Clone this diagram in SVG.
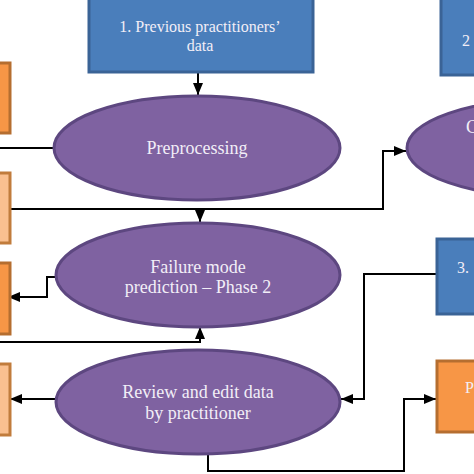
<svg xmlns="http://www.w3.org/2000/svg" width="474" height="474" viewBox="0 0 474 474">
<defs>
<style>
.blue{fill:#4A7EBB;stroke:#3A6396;stroke-width:3}
.orange{fill:#F79646;stroke:#B56E30;stroke-width:3}
.peach{fill:#FAC090;stroke:#C17C3C;stroke-width:3}
.ell{fill:#7F62A1;stroke:#5D4780;stroke-width:3}
.t{font-family:"Liberation Serif","Times New Roman",serif;font-size:16px;fill:#F2EEF7;text-anchor:middle}
.te{font-family:"Liberation Serif","Times New Roman",serif;font-size:18px;fill:#F2EEF7;text-anchor:middle}
.ts{font-family:"Liberation Serif","Times New Roman",serif;font-size:16px;fill:#F2EEF7}
.c{fill:none;stroke:#000;stroke-width:2}
</style>
<marker id="ah" markerWidth="12" markerHeight="10" refX="12" refY="5" orient="auto" markerUnits="userSpaceOnUse" viewBox="0 0 12 10">
<path d="M0,0 L12,5 L0,10 z" fill="#000"/>
</marker>
</defs>
<rect width="474" height="474" fill="#fff"/>
<g id="connectors">
<path class="c" d="M198,72 V95" marker-end="url(#ah)"/>
<path class="c" d="M0,148 H54"/>
<path class="c" d="M10,209 H383 V151 H406" marker-end="url(#ah)"/>
<path class="c" d="M200,209 V222" marker-end="url(#ah)"/>
<path class="c" d="M56,277 H47 V297 H8" marker-end="url(#ah)"/>
<path class="c" d="M0,342 H200 V327" marker-end="url(#ah)"/>
<path class="c" d="M56,399 H10" marker-end="url(#ah)"/>
<path class="c" d="M436,274 H364 V399 H341" marker-end="url(#ah)"/>
<path class="c" d="M208,455 V471 H404 V399 H436" marker-end="url(#ah)"/>
</g>
<g id="box1">
<rect class="blue" x="89" y="-4" width="224" height="76"/>
<text class="t" x="200" y="32">1. Previous practitioners’</text>
<text class="t" x="200" y="51">data</text>
</g>
<g id="box2">
<rect class="blue" x="441" y="-4" width="60" height="79"/>
<text class="ts" x="462" y="46">2</text>
</g>
<g id="boxA"><rect class="orange" x="-20" y="63" width="30" height="70"/></g>
<g id="boxB"><rect class="peach" x="-20" y="173" width="30" height="70"/></g>
<g id="boxC"><rect class="orange" x="-20" y="263" width="30" height="71"/></g>
<g id="boxD"><rect class="peach" x="-20" y="364" width="30" height="71"/></g>
<g id="preprocessing">
<ellipse class="ell" cx="197" cy="148" rx="143" ry="52"/>
<text class="te" x="197" y="154">Preprocessing</text>
</g>
<g id="ellipse2">
<ellipse class="ell" cx="549" cy="148" rx="142" ry="49"/>
<text class="ts" x="466" y="133" style="font-size:18px">C</text>
</g>
<g id="failure">
<ellipse class="ell" cx="198" cy="275" rx="142" ry="52"/>
<text class="te" x="198" y="273">Failure mode</text>
<text class="te" x="198" y="293">prediction – Phase 2</text>
</g>
<g id="review">
<ellipse class="ell" cx="198" cy="402" rx="142" ry="52"/>
<text class="te" x="198" y="398">Review and edit data</text>
<text class="te" x="198" y="419">by practitioner</text>
</g>
<g id="box3">
<rect class="blue" x="437" y="239" width="60" height="75"/>
<text class="ts" x="457" y="273">3.</text>
</g>
<g id="boxP">
<rect class="orange" x="437" y="361" width="60" height="71"/>
<text class="ts" x="465" y="393">P</text>
</g>
</svg>
